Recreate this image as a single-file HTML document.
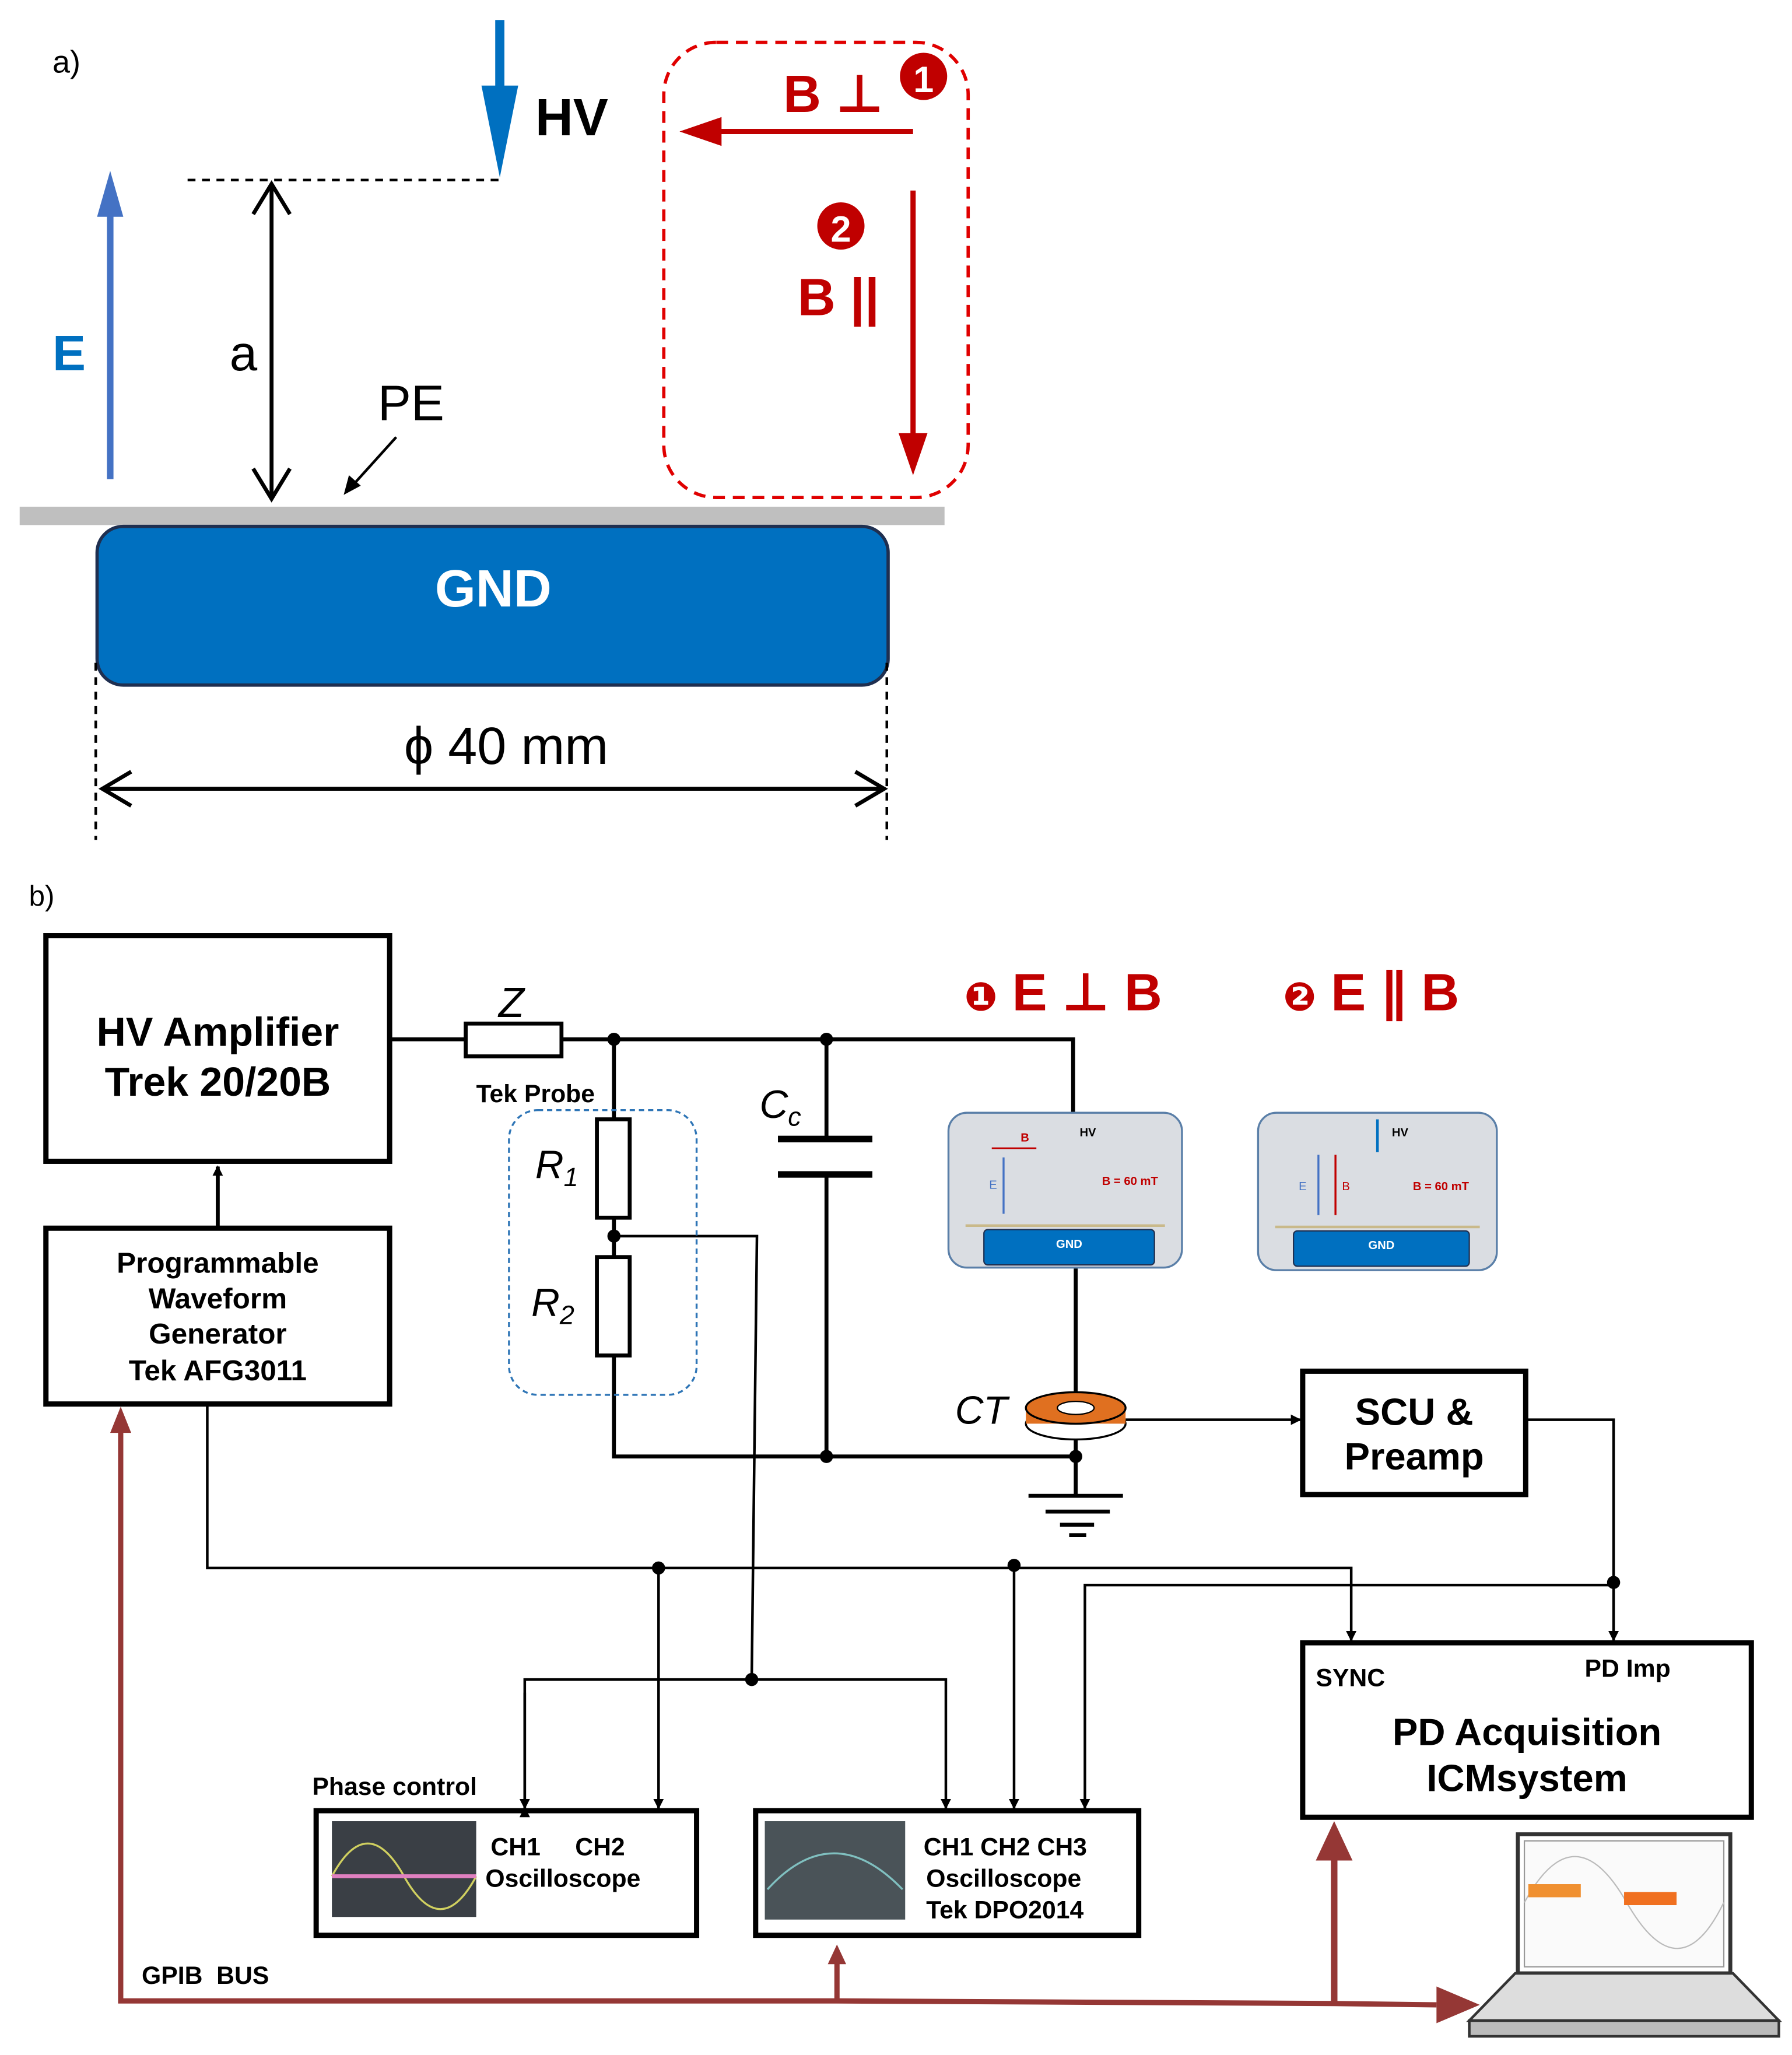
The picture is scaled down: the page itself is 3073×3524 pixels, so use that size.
<!DOCTYPE html>
<html><head><meta charset="utf-8"><style>
html,body{margin:0;padding:0;background:#fff}
svg{display:block}
text{font-family:"Liberation Sans","DejaVu Sans",sans-serif}
</style></head><body>
<svg width="3073" height="3524" viewBox="0 0 1366 1566" xmlns="http://www.w3.org/2000/svg">
<defs>
<marker id="ab" markerWidth="8" markerHeight="8" refX="7" refY="4" orient="auto" markerUnits="userSpaceOnUse"><path d="M0,0 L8,4 L0,8 z" fill="#000"/></marker>
<marker id="ar" markerWidth="12" markerHeight="12" refX="11" refY="6" orient="auto" markerUnits="userSpaceOnUse"><path d="M0,0 L12,6 L0,12 z" fill="#953735"/></marker>
<marker id="abig" markerWidth="30" markerHeight="30" refX="28" refY="15" orient="auto" markerUnits="userSpaceOnUse"><path d="M0,4 L28,15 L0,26 z" fill="#953735"/></marker>
</defs>
<g fill="#fff" stroke="none"><rect width="1366" height="1566"/></g>
<!-- part a -->
<text x="40" y="55" font-size="24">a)</text>
<line x1="381" y1="15" x2="381" y2="95" stroke="#0070c0" stroke-width="7"/>
<path d="M367,65 L381,135 L395,65 z" fill="#0070c0"/>
<text x="408" y="103" font-size="40" font-weight="bold">HV</text>
<line x1="143" y1="137" x2="381" y2="137" stroke="#000" stroke-width="2" stroke-dasharray="6,5"/>
<line x1="207" y1="140" x2="207" y2="380" stroke="#000" stroke-width="3"/>
<path d="M193,163 L207,140 L221,163 M193,357 L207,380 L221,357" fill="none" stroke="#000" stroke-width="3"/>
<text x="175" y="282" font-size="38">a</text>
<line x1="84" y1="365" x2="84" y2="160" stroke="#4472c4" stroke-width="5"/>
<path d="M74,165 L84,130 L94,165 z" fill="#4472c4"/>
<text x="40" y="282" font-size="38" font-weight="bold" fill="#0070c0">E</text>
<text x="288" y="320" font-size="38">PE</text>
<line x1="302" y1="333" x2="265" y2="374" stroke="#000" stroke-width="2"/>
<path d="M262,377 L266,362 L275,370 z" fill="#000"/>
<rect x="506" y="32" width="232" height="347" rx="40" fill="none" stroke="#e00000" stroke-width="2.5" stroke-dasharray="9,6"/>
<text x="597" y="85" font-size="40" font-weight="bold" fill="#c00000">B ⊥</text>
<circle cx="704" cy="58" r="18" fill="#c00000"/><text x="704" y="70" font-size="28" font-weight="bold" fill="#fff" text-anchor="middle">1</text>
<line x1="696" y1="100" x2="545" y2="100" stroke="#c00000" stroke-width="4"/>
<path d="M550,89 L518,100 L550,111 z" fill="#c00000"/>
<circle cx="641" cy="172" r="18" fill="#c00000"/><text x="641" y="184" font-size="28" font-weight="bold" fill="#fff" text-anchor="middle">2</text>
<text x="608" y="240" font-size="40" font-weight="bold" fill="#c00000">B ||</text>
<line x1="696" y1="145" x2="696" y2="335" stroke="#c00000" stroke-width="4"/>
<path d="M685,330 L696,362 L707,330 z" fill="#c00000"/>
<rect x="15" y="386" width="705" height="14" fill="#bfbfbf"/>
<rect x="74" y="401" width="603" height="121" rx="20" fill="#0070c0" stroke="#1f2f50" stroke-width="2.5"/>
<text x="376" y="462" font-size="40" font-weight="bold" fill="#fff" text-anchor="middle">GND</text>
<line x1="73" y1="505" x2="73" y2="640" stroke="#000" stroke-width="2" stroke-dasharray="6,5"/>
<line x1="676" y1="505" x2="676" y2="640" stroke="#000" stroke-width="2" stroke-dasharray="6,5"/>
<text x="308" y="582" font-size="40">ϕ 40 mm</text>
<line x1="78" y1="601" x2="674" y2="601" stroke="#000" stroke-width="3"/>
<path d="M100,588 L78,601 L100,614 M652,588 L674,601 L652,614" fill="none" stroke="#000" stroke-width="3"/>
<!-- part b -->
<text x="22" y="690" font-size="22">b)</text>
<g fill="none" stroke="#000" stroke-width="4">
<rect x="35" y="713" width="262" height="172"/>
<rect x="35" y="936" width="262" height="134"/>
<rect x="993" y="1045" width="170" height="94"/>
<rect x="993" y="1252" width="342" height="133"/>
<rect x="241" y="1380" width="290" height="95"/>
<rect x="576" y="1380" width="292" height="95"/>
</g>
<g font-weight="bold" text-anchor="middle">
<text x="166" y="797" font-size="31">HV Amplifier</text>
<text x="166" y="835" font-size="31">Trek 20/20B</text>
<text x="166" y="970" font-size="22">Programmable</text>
<text x="166" y="997" font-size="22">Waveform</text>
<text x="166" y="1024" font-size="22">Generator</text>
<text x="166" y="1052" font-size="22">Tek AFG3011</text>
<text x="1078" y="1086" font-size="29">SCU &amp;</text>
<text x="1078" y="1120" font-size="29">Preamp</text>
<text x="1164" y="1330" font-size="29">PD Acquisition</text>
<text x="1164" y="1365" font-size="29">ICMsystem</text>
</g>
<g font-weight="bold" font-size="19">
<text x="363" y="840">Tek Probe</text>
<text x="1003" y="1285">SYNC</text>
<text x="1208" y="1278">PD Imp</text>
<text x="238" y="1368">Phase control</text>
<text x="374" y="1414">CH1&#160;&#160;&#160;&#160;&#160;CH2</text>
<text x="370" y="1438">Oscilloscope</text>
<text x="704" y="1414">CH1 CH2 CH3</text>
<text x="706" y="1438">Oscilloscope</text>
<text x="706" y="1462">Tek DPO2014</text>
<text x="108" y="1512">GPIB&#160;&#160;BUS</text>
</g>
<g stroke="#000" stroke-width="3" fill="none">
<line x1="166" y1="936" x2="166" y2="889" marker-end="url(#ab)"/>
<polyline points="297,792 355,792"/>
<polyline points="428,792 818,792 818,878" marker-end="url(#ab)"/>
<rect x="355" y="780" width="73" height="25" fill="#fff"/>
<line x1="468" y1="792" x2="468" y2="853"/>
<rect x="455" y="853" width="25" height="75"/>
<line x1="468" y1="928" x2="468" y2="958"/>
<rect x="455" y="958" width="25" height="75"/>
<polyline points="468,1033 468,1110 820,1110"/>
<line x1="630" y1="792" x2="630" y2="868"/>
<line x1="593" y1="868" x2="665" y2="868" stroke-width="5"/>
<line x1="593" y1="895" x2="665" y2="895" stroke-width="5"/>
<line x1="630" y1="895" x2="630" y2="1110"/>
<line x1="820" y1="966" x2="820" y2="1140"/>
<line x1="784" y1="1140" x2="856" y2="1140"/>
<line x1="797" y1="1152" x2="846" y2="1152"/>
<line x1="808" y1="1162" x2="834" y2="1162"/>
<line x1="815" y1="1170" x2="828" y2="1170"/>
</g>
<g stroke="#000" stroke-width="2" fill="none">
<polyline points="468,942 577,942 573,1280"/>
<line x1="858" y1="1082" x2="991" y2="1082" marker-end="url(#ab)"/>
<polyline points="1163,1082 1230,1082 1230,1250" marker-end="url(#ab)"/>
<polyline points="158,1070 158,1195 1030,1195 1030,1250" marker-end="url(#ab)"/>
<polyline points="1230,1208 827,1208 827,1378" marker-end="url(#ab)"/>
<line x1="502" y1="1195" x2="502" y2="1378" marker-end="url(#ab)"/>
<line x1="773" y1="1193" x2="773" y2="1378" marker-end="url(#ab)"/>
<polyline points="400,1378 400,1280 721,1280 721,1378" marker-start="url(#ab)" marker-end="url(#ab)"/>
</g>
<line x1="400" y1="1290" x2="400" y2="1378" stroke="#000" stroke-width="2" marker-end="url(#ab)"/>
<g fill="#000">
<circle cx="468" cy="792" r="5"/><circle cx="630" cy="792" r="5"/><circle cx="468" cy="942" r="5"/>
<circle cx="630" cy="1110" r="5"/><circle cx="820" cy="1110" r="5"/><circle cx="1230" cy="1206" r="5"/>
<circle cx="502" cy="1195" r="5"/><circle cx="773" cy="1193" r="5"/><circle cx="573" cy="1280" r="5"/>
</g>
<text x="380" y="775" font-size="32" font-style="italic">Z</text>
<text x="408" y="898" font-size="30" font-style="italic">R<tspan font-size="20" dy="6">1</tspan></text>
<text x="405" y="1003" font-size="30" font-style="italic">R<tspan font-size="20" dy="6">2</tspan></text>
<text x="579" y="852" font-size="30" font-style="italic">C<tspan font-size="20" dy="6">c</tspan></text>
<text x="728" y="1085" font-size="30" font-style="italic">CT</text>
<rect x="388" y="846" width="143" height="217" rx="22" fill="none" stroke="#2e75b6" stroke-width="1.5" stroke-dasharray="4,3"/>
<!-- CT toroid -->
<ellipse cx="820" cy="1085" rx="38" ry="12" fill="#fff" stroke="#000" stroke-width="1.5"/>
<rect x="782" y="1073" width="76" height="12" fill="#e07020"/>
<ellipse cx="820" cy="1073" rx="38" ry="12" fill="#e07020" stroke="#000" stroke-width="1.5"/>
<ellipse cx="820" cy="1073" rx="14" ry="5" fill="#fff" stroke="#000"/>
<!-- headers -->
<text x="735" y="770" font-size="40" font-weight="bold" fill="#c00000"><tspan font-size="30">❶</tspan> E ⊥ B</text>
<text x="978" y="770" font-size="40" font-weight="bold" fill="#c00000"><tspan font-size="30">❷</tspan> E ∥ B</text>
<!-- insets -->
<rect x="723" y="848" width="178" height="118" rx="14" fill="#dadde2" stroke="#5a7fa8" stroke-width="1.5"/>
<line x1="736" y1="934" x2="888" y2="934" stroke="#c9b98a" stroke-width="2"/>
<rect x="750" y="937" width="130" height="27" rx="3" fill="#0070c0" stroke="#1f2f50"/>
<text x="815" y="951" font-size="9" font-weight="bold" fill="#fff" text-anchor="middle">GND</text>
<text x="823" y="866" font-size="9" font-weight="bold">HV</text>
<text x="840" y="903" font-size="9" font-weight="bold" fill="#c00000">B = 60 mT</text>
<text x="778" y="870" font-size="9" font-weight="bold" fill="#c00000">B</text>
<line x1="790" y1="875" x2="756" y2="875" stroke="#c00000" stroke-width="1.2"/>
<line x1="765" y1="925" x2="765" y2="882" stroke="#4472c4" stroke-width="1.5"/>
<text x="754" y="906" font-size="9" fill="#4472c4">E</text>
<rect x="959" y="848" width="182" height="120" rx="14" fill="#dadde2" stroke="#5a7fa8" stroke-width="1.5"/>
<line x1="972" y1="935" x2="1128" y2="935" stroke="#c9b98a" stroke-width="2"/>
<rect x="986" y="938" width="134" height="27" rx="3" fill="#0070c0" stroke="#1f2f50"/>
<text x="1053" y="952" font-size="9" font-weight="bold" fill="#fff" text-anchor="middle">GND</text>
<line x1="1050" y1="853" x2="1050" y2="878" stroke="#0070c0" stroke-width="2"/>
<text x="1061" y="866" font-size="9" font-weight="bold">HV</text>
<text x="1077" y="907" font-size="9" font-weight="bold" fill="#c00000">B = 60 mT</text>
<line x1="1005" y1="926" x2="1005" y2="880" stroke="#4472c4" stroke-width="1.5"/>
<line x1="1018" y1="880" x2="1018" y2="926" stroke="#c00000" stroke-width="1.5"/>
<text x="990" y="907" font-size="9" fill="#4472c4">E</text>
<text x="1023" y="907" font-size="9" fill="#c00000">B</text>
<!-- scope thumbnails -->
<rect x="253" y="1388" width="110" height="73" fill="#3a3f45"/>
<path d="M253,1430 Q280,1380 308,1430 T363,1430" fill="none" stroke="#d0d060" stroke-width="1.5"/>
<line x1="253" y1="1430" x2="363" y2="1430" stroke="#e080c0" stroke-width="3"/>
<rect x="583" y="1388" width="107" height="75" fill="#4a5358"/>
<path d="M585,1440 Q635,1385 688,1440" fill="none" stroke="#80c0c0" stroke-width="1.5"/>
<!-- GPIB -->
<g stroke="#953735" stroke-width="4" fill="none">
<polyline points="92,1090 92,1525 638,1525 1017,1527 1095,1528"/>
<line x1="638" y1="1525" x2="638" y2="1495"/>
<line x1="1017" y1="1527" x2="1017" y2="1415" stroke-width="5"/>
</g>
<path d="M84,1092 L92,1072 L100,1092 z" fill="#953735"/>
<path d="M631,1497 L638,1482 L645,1497 z" fill="#953735"/>
<path d="M1003,1418 L1017,1388 L1031,1418 z" fill="#953735"/>
<path d="M1095,1514 L1128,1528 L1095,1542 z" fill="#953735"/>
<!-- laptop -->
<rect x="1157" y="1398" width="162" height="106" fill="#fff" stroke="#333" stroke-width="3"/>
<rect x="1162" y="1403" width="152" height="96" fill="#fafafa" stroke="#999"/>
<path d="M1162,1450 Q1200,1380 1240,1450 T1314,1450" fill="none" stroke="#bbb"/>
<rect x="1165" y="1436" width="40" height="10" fill="#f09030"/>
<rect x="1238" y="1442" width="40" height="10" fill="#f07020"/>
<path d="M1155,1504 L1321,1504 L1356,1540 L1120,1540 z" fill="#ddd" stroke="#333" stroke-width="2"/>
<rect x="1120" y="1540" width="236" height="12" fill="#bbb" stroke="#333" stroke-width="2"/>
</svg>
</body></html>
